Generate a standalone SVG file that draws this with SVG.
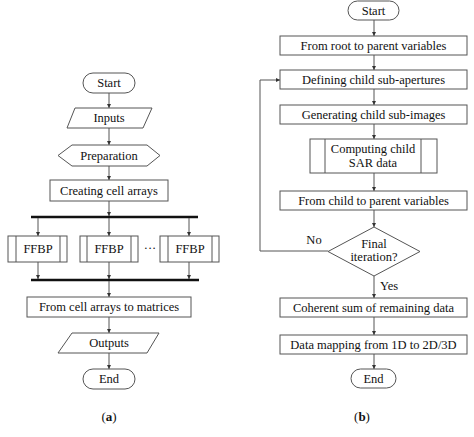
<svg xmlns="http://www.w3.org/2000/svg" width="474" height="437" viewBox="0 0 474 437">
<style>
.s{fill:#fff;stroke:#555;stroke-width:1}
.t{font-family:"Liberation Serif","DejaVu Serif",serif;font-size:12.5px;fill:#111;text-anchor:middle;dominant-baseline:central}
.c{fill:none;stroke:#555;stroke-width:1}
.bar{stroke:#111;stroke-width:2.5}
.lb{font-family:"Liberation Serif","DejaVu Serif",serif;font-size:13px;fill:#111;text-anchor:middle}
</style>
<defs>
<marker id="a" markerWidth="4" markerHeight="4" refX="4" refY="2" orient="auto" markerUnits="userSpaceOnUse">
<path d="M0,0 L4,2 L0,4 Z" fill="#333"/>
</marker>
</defs>
<rect width="474" height="437" fill="#fff"/>
<g id="connectors">
<line class="c" x1="109" y1="93" x2="109" y2="108" marker-end="url(#a)"/>
<line class="c" x1="109" y1="128" x2="109" y2="145" marker-end="url(#a)"/>
<line class="c" x1="109" y1="166" x2="109" y2="180" marker-end="url(#a)"/>
<line class="c" x1="109" y1="201" x2="109" y2="216" marker-end="url(#a)"/>
<line class="bar" x1="31" y1="217" x2="198" y2="217"/>
<line class="c" x1="38" y1="218" x2="38" y2="236" marker-end="url(#a)"/>
<line class="c" x1="109" y1="218" x2="109" y2="236" marker-end="url(#a)"/>
<line class="c" x1="189" y1="218" x2="189" y2="236" marker-end="url(#a)"/>
<line class="c" x1="38" y1="262" x2="38" y2="279" marker-end="url(#a)"/>
<line class="c" x1="109" y1="262" x2="109" y2="279" marker-end="url(#a)"/>
<line class="c" x1="189" y1="262" x2="189" y2="279" marker-end="url(#a)"/>
<line class="bar" x1="31" y1="280" x2="199" y2="280"/>
<line class="c" x1="109" y1="281" x2="109" y2="297" marker-end="url(#a)"/>
<line class="c" x1="109" y1="317" x2="109" y2="333" marker-end="url(#a)"/>
<line class="c" x1="109" y1="353" x2="109" y2="369" marker-end="url(#a)"/>
<line class="c" x1="374" y1="20" x2="374" y2="36" marker-end="url(#a)"/>
<line class="c" x1="374" y1="55" x2="374" y2="70" marker-end="url(#a)"/>
<line class="c" x1="374" y1="89" x2="374" y2="105" marker-end="url(#a)"/>
<line class="c" x1="374" y1="124" x2="374" y2="139" marker-end="url(#a)"/>
<line class="c" x1="374" y1="173" x2="374" y2="191" marker-end="url(#a)"/>
<line class="c" x1="374" y1="210" x2="374" y2="227" marker-end="url(#a)"/>
<polyline class="c" points="328,251 260,251 260,80 280,80" marker-end="url(#a)"/>
<line class="c" x1="374" y1="276" x2="374" y2="298" marker-end="url(#a)"/>
<line class="c" x1="374" y1="317" x2="374" y2="335" marker-end="url(#a)"/>
<line class="c" x1="374" y1="354" x2="374" y2="369" marker-end="url(#a)"/>
<text class="t" x="314" y="240">No</text>
<text class="t" x="389" y="286">Yes</text>
</g>
<g id="a-start"><rect class="s" x="83" y="73" width="52" height="20" rx="10"/><text class="t" x="109" y="83">Start</text></g>
<g id="a-inputs"><polygon class="s" points="75,108 152,108 143,128 67,128"/><text class="t" x="109" y="118">Inputs</text></g>
<g id="a-prep"><polygon class="s" points="58,155.5 72,145 147,145 160,155.5 147,166 72,166"/><text class="t" x="109" y="155.5">Preparation</text></g>
<g id="a-create"><rect class="s" x="50" y="180" width="118" height="21"/><text class="t" x="109" y="190.5">Creating cell arrays</text></g>
<g id="a-ffbp1"><rect class="s" x="8" y="236" width="59" height="26"/><line class="c" x1="16" y1="236" x2="16" y2="262"/><line class="c" x1="60" y1="236" x2="60" y2="262"/><text class="t" x="38" y="249">FFBP</text></g>
<g id="a-ffbp2"><rect class="s" x="80" y="236" width="58" height="26"/><line class="c" x1="87" y1="236" x2="87" y2="262"/><line class="c" x1="131" y1="236" x2="131" y2="262"/><text class="t" x="109" y="249">FFBP</text></g>
<text class="t" x="150" y="248">···</text>
<g id="a-ffbp3"><rect class="s" x="160" y="236" width="59" height="26"/><line class="c" x1="168" y1="236" x2="168" y2="262"/><line class="c" x1="212" y1="236" x2="212" y2="262"/><text class="t" x="190" y="249">FFBP</text></g>
<g id="a-matrices"><rect class="s" x="27" y="297" width="164" height="20"/><text class="t" x="109" y="307">From cell arrays to matrices</text></g>
<g id="a-outputs"><polygon class="s" points="72,333 159,333 147,353 58,353"/><text class="t" x="109" y="343">Outputs</text></g>
<g id="a-end"><rect class="s" x="83" y="369" width="52" height="20" rx="10"/><text class="t" x="109" y="379">End</text></g>
<text class="lb" x="109" y="421">(<tspan font-weight="bold">a</tspan>)</text>
<g id="b-start"><rect class="s" x="348" y="1" width="51" height="19" rx="9.5"/><text class="t" x="373.5" y="10.5">Start</text></g>
<g id="b-root"><rect class="s" x="280" y="36" width="187" height="19"/><text class="t" x="373.5" y="45.5">From root to parent variables</text></g>
<g id="b-define"><rect class="s" x="280" y="70" width="187" height="19"/><text class="t" x="373.5" y="79.5">Defining child sub-apertures</text></g>
<g id="b-generate"><rect class="s" x="280" y="105" width="187" height="19"/><text class="t" x="373.5" y="114.5">Generating child sub-images</text></g>
<g id="b-compute"><rect class="s" x="310" y="139" width="127" height="34"/><line class="c" x1="325" y1="139" x2="325" y2="173"/><line class="c" x1="421" y1="139" x2="421" y2="173"/><text class="t" x="373" y="149">Computing child</text><text class="t" x="373" y="163">SAR data</text></g>
<g id="b-child"><rect class="s" x="280" y="191" width="187" height="19"/><text class="t" x="373.5" y="200.5">From child to parent variables</text></g>
<g id="b-final"><polygon class="s" points="374,227 420,251.5 374,276 328,251.5"/><text class="t" x="374" y="244">Final</text><text class="t" x="374" y="257">iteration?</text></g>
<g id="b-coherent"><rect class="s" x="280" y="298" width="187" height="19"/><text class="t" x="373.5" y="307.5">Coherent sum of remaining data</text></g>
<g id="b-mapping"><rect class="s" x="280" y="335" width="187" height="19"/><text class="t" x="373.5" y="344.5">Data mapping from 1D to 2D/3D</text></g>
<g id="b-end"><rect class="s" x="351" y="369" width="45" height="19" rx="9.5"/><text class="t" x="373.5" y="378.5">End</text></g>
<text class="lb" x="362" y="421">(<tspan font-weight="bold">b</tspan>)</text>
</svg>
